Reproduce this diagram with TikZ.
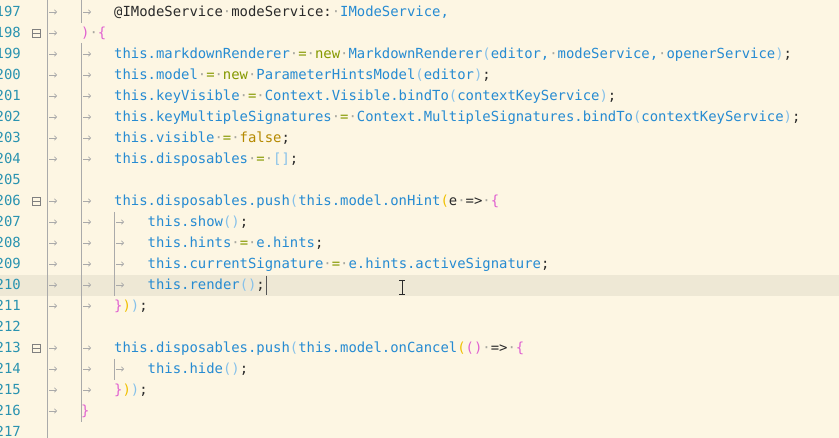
\documentclass[tikz,border=0pt]{standalone}
\usepackage{fontspec}
\setmonofont{DejaVu Sans Mono}
\usetikzlibrary{arrows.meta}
\definecolor{bg}{HTML}{FDF6E3}
\definecolor{hl}{HTML}{EEE8D5}
\definecolor{cb}{HTML}{268BD2}
\definecolor{cg}{HTML}{859900}
\definecolor{cy}{HTML}{B58900}
\definecolor{pa}{HTML}{86C1EA}
\definecolor{pb}{HTML}{F0C000}
\definecolor{pc}{HTML}{E060D0}
\definecolor{cd}{HTML}{2A2A2A}
\definecolor{ws}{HTML}{A8A8A0}
\definecolor{ln}{HTML}{2A93B0}
\definecolor{gd}{HTML}{AAAAAA}
\newcommand\Bx[1]{\textcolor{cb}{#1}}
\newcommand\Gx[1]{\textcolor{cg}{#1}}
\newcommand\Yx[1]{\textcolor{cy}{#1}}
\newcommand\Pa[1]{\textcolor{pa}{#1}}
\newcommand\Pb[1]{\textcolor{pb}{#1}}
\newcommand\Pc[1]{\textcolor{pc}{#1}}
\newcommand\Dx[1]{\textcolor{cd}{#1}}
\newcommand\Sp{\textcolor{ws}{·}}
\newcommand\Eq{\Sp\Gx{=}\Sp}
\begin{document}
\begin{tikzpicture}[x=1pt,y=-1pt,
  code/.style={anchor=base west,inner sep=0pt,font=\fontsize{13.9}{14}\ttfamily},
  lnum/.style={anchor=base east,inner sep=0pt,text=ln,font=\fontsize{13.9}{14}\ttfamily},
  guide/.style={draw=gd,line width=0.6pt},
  tabarr/.style={draw=gd,line width=0.6pt,-{Straight Barb[length=2.2pt,width=4.5pt]}},
  fold/.style={draw=gray,fill=bg,line width=0.5pt,minimum size=8pt,inner sep=0pt}]
\fill[bg] (0,0) rectangle (839,438);
\clip (0,0) rectangle (839,438);
\fill[hl] (0,275) rectangle (839,296);
% line numbers
\foreach \k in {0,...,20}{
  \pgfmathtruncatemacro\n{197+\k}
  \node[lnum] (n\k) at (21,12+21*\k+5) {\n};
}
% fold markers
\foreach \k/\nm in {1/fa,9/fb,16/fc}{
  \node[fold] (\nm) at (36,12+21*\k) {};
  \draw[gray,line width=0.6pt] (32.5,12+21*\k) -- (39.5,12+21*\k);
}
% guides
\draw[guide] (47.5,0) -- (47.5,438);
\draw[guide] (81,0) -- (81,23);
\draw[guide] (81,43) -- (81,422);
\draw[guide] (114.5,212) -- (114.5,296);
\draw[guide] (114.5,359) -- (114.5,380);
% tab arrows
\foreach \k in {0,1,2,3,4,5,6,7,9,10,11,12,13,14,16,17,18,19}{
  \draw[tabarr] (49,12+21*\k) -- (57,12+21*\k);
}
\foreach \k in {0,2,3,4,5,6,7,9,10,11,12,13,14,16,17,18}{
  \draw[tabarr] (83,12+21*\k) -- (91,12+21*\k);
}
\foreach \k in {10,11,12,13,17}{
  \draw[tabarr] (116,12+21*\k) -- (124,12+21*\k);
}
% code
\def\xa{81}\def\xb{114}\def\xc{147.5}
\node[code] (c0) at (\xb,17) {\Dx{@IModeService}\Sp\Dx{modeService:}\Sp\Bx{IModeService,}};
\node[code] (c1) at (\xa,38) {\Pc{)}\Sp\Pc{\{}};
\node[code] (c2) at (\xb,59) {\Bx{this.markdownRenderer}\Eq\Gx{new}\Sp\Bx{MarkdownRenderer}\Pa{(}\Bx{editor,}\Sp\Bx{modeService,}\Sp\Bx{openerService}\Pa{)}\Dx{;}};
\node[code] (c3) at (\xb,80) {\Bx{this.model}\Eq\Gx{new}\Sp\Bx{ParameterHintsModel}\Pa{(}\Bx{editor}\Pa{)}\Dx{;}};
\node[code] (c4) at (\xb,101) {\Bx{this.keyVisible}\Eq\Bx{Context.Visible.bindTo}\Pa{(}\Bx{contextKeyService}\Pa{)}\Dx{;}};
\node[code] (c5) at (\xb,122) {\Bx{this.keyMultipleSignatures}\Eq\Bx{Context.MultipleSignatures.bindTo}\Pa{(}\Bx{contextKeyService}\Pa{)}\Dx{;}};
\node[code] (c6) at (\xb,143) {\Bx{this.visible}\Eq\Yx{false}\Dx{;}};
\node[code] (c7) at (\xb,164) {\Bx{this.disposables}\Eq\Pa{[]}\Dx{;}};
\node[code] (c9) at (\xb,206) {\Bx{this.disposables.push}\Pa{(}\Bx{this.model.onHint}\Pb{(}\Dx{e}\Sp\Dx{=>}\Sp\Pc{\{}};
\node[code] (c10) at (\xc,227) {\Bx{this.show}\Pa{()}\Dx{;}};
\node[code] (c11) at (\xc,248) {\Bx{this.hints}\Eq\Bx{e.hints}\Dx{;}};
\node[code] (c12) at (\xc,269) {\Bx{this.currentSignature}\Eq\Bx{e.hints.activeSignature}\Dx{;}};
\node[code] (c13) at (\xc,290) {\Bx{this.render}\Pa{()}\Dx{;}};
\node[code] (c14) at (\xb,311) {\Pc{\}}\Pb{)}\Pa{)}\Dx{;}};
\node[code] (c16) at (\xb,353) {\Bx{this.disposables.push}\Pa{(}\Bx{this.model.onCancel}\Pb{(}\Pc{()}\Sp\Dx{=>}\Sp\Pc{\{}};
\node[code] (c17) at (\xc,374) {\Bx{this.hide}\Pa{()}\Dx{;}};
\node[code] (c18) at (\xb,395) {\Pc{\}}\Pb{)}\Pa{)}\Dx{;}};
\node[code] (c19) at (\xa,416) {\Pc{\}}};
% cursor and I-beam
\draw[cd!80,line width=1pt] (c13.east) ++(1.5,-10) -- ++(0,19);
\draw[cd,line width=0.8pt] (402,280) -- (402,294) (399,280) -- (405,280) (399,294) -- (405,294);
\end{tikzpicture}
\end{document}
